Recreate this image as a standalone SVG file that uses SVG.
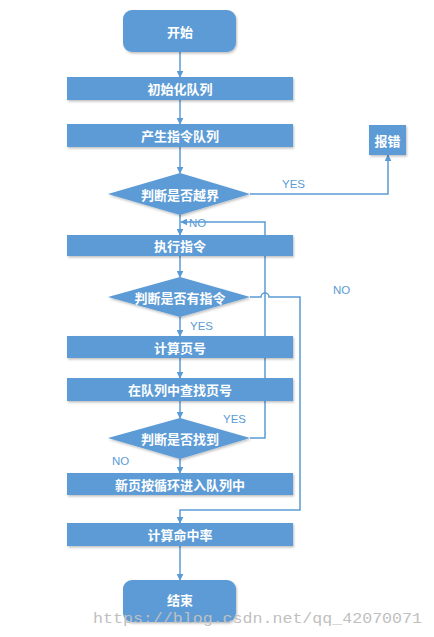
<svg xmlns="http://www.w3.org/2000/svg" width="434" height="637" viewBox="0 0 434 637">
<style>
.n{fill:#5b9bd5;filter:url(#sh)}
.t{fill:#fff;font-family:"Noto Sans CJK SC","Liberation Sans",sans-serif;font-size:13px;font-weight:bold;text-anchor:middle;dominant-baseline:central}
.c{fill:none;stroke:#5b9bd5;stroke-width:1.5}
.l{fill:#5b9bd5;font-family:"Liberation Sans","DejaVu Sans",sans-serif;font-size:11.5px}
.w{fill:#c0c0c0;font-family:"Liberation Mono",monospace;font-size:15px}
</style>
<defs>
<filter id="sh" x="-10%" y="-20%" width="130%" height="150%"><feDropShadow dx="1" dy="1.5" stdDeviation="1" flood-color="#000" flood-opacity="0.25"/></filter>
<marker id="a" viewBox="0 0 10 10" refX="9" refY="5" markerWidth="7" markerHeight="7" orient="auto" markerUnits="userSpaceOnUse"><path d="M0,0L10,5L0,10z" fill="#5b9bd5"/></marker>
</defs>
<rect width="434" height="637" fill="#fff"/>
<g id="connectors">
<path class="c" d="M180,52V77" marker-end="url(#a)"/>
<path class="c" d="M180,100V124" marker-end="url(#a)"/>
<path class="c" d="M180,147V173" marker-end="url(#a)"/>
<path class="c" d="M250,194H388V155" marker-end="url(#a)"/>
<path class="c" d="M180,215V235" marker-end="url(#a)"/>
<path class="c" d="M180,256V277" marker-end="url(#a)"/>
<path class="c" d="M180,317V336" marker-end="url(#a)"/>
<path class="c" d="M180,358V378" marker-end="url(#a)"/>
<path class="c" d="M180,401V418" marker-end="url(#a)"/>
<path class="c" d="M180,459V473" marker-end="url(#a)"/>
<path class="c" d="M250,438H265V222H181" marker-end="url(#a)"/>
<path class="c" d="M250,297H261A4,4 0 0 1 269,297H300V510H180V523" marker-end="url(#a)"/>
<path class="c" d="M180,546V580" marker-end="url(#a)"/>
<text class="l" x="282" y="188">YES</text>
<text class="l" x="189" y="227">NO</text>
<text class="l" x="333" y="294">NO</text>
<text class="l" x="190" y="330">YES</text>
<text class="l" x="223" y="423">YES</text>
<text class="l" x="112" y="465">NO</text>
</g>
<g id="start"><rect class="n" x="123" y="10" width="113" height="42" rx="9"/><text class="t" x="180" y="31">开始</text></g>
<g id="init"><rect class="n" x="67" y="77" width="226" height="23"/><text class="t" x="180" y="88.5">初始化队列</text></g>
<g id="produce"><rect class="n" x="67" y="124" width="226" height="23"/><text class="t" x="180" y="135.5">产生指令队列</text></g>
<g id="error"><rect class="n" x="369" y="125" width="37" height="30"/><text class="t" x="387.5" y="140">报错</text></g>
<g id="check1"><polygon class="n" points="180,173 250,194 180,215 108,194"/><text class="t" x="180" y="194">判断是否越界</text></g>
<g id="exec"><rect class="n" x="67" y="235" width="226" height="21"/><text class="t" x="180" y="245.5">执行指令</text></g>
<g id="check2"><polygon class="n" points="180,277 250,297 180,317 108,297"/><text class="t" x="180" y="297">判断是否有指令</text></g>
<g id="calc"><rect class="n" x="67" y="336" width="226" height="22"/><text class="t" x="180" y="347">计算页号</text></g>
<g id="find"><rect class="n" x="67" y="378" width="226" height="23"/><text class="t" x="180" y="389.5">在队列中查找页号</text></g>
<g id="check3"><polygon class="n" points="180,418 250,438 180,459 108,438"/><text class="t" x="180" y="438">判断是否找到</text></g>
<g id="newpage"><rect class="n" x="67" y="473" width="226" height="22"/><text class="t" x="180" y="484">新页按循环进入队列中</text></g>
<g id="hit"><rect class="n" x="67" y="523" width="226" height="23"/><text class="t" x="180" y="534.5">计算命中率</text></g>
<g id="end"><rect class="n" x="123" y="580" width="113" height="42" rx="9"/><text class="t" x="180" y="599">结束</text></g>
<text class="w" x="93" y="623" textLength="329" lengthAdjust="spacingAndGlyphs">https://blog.csdn.net/qq_42070071</text>
</svg>
